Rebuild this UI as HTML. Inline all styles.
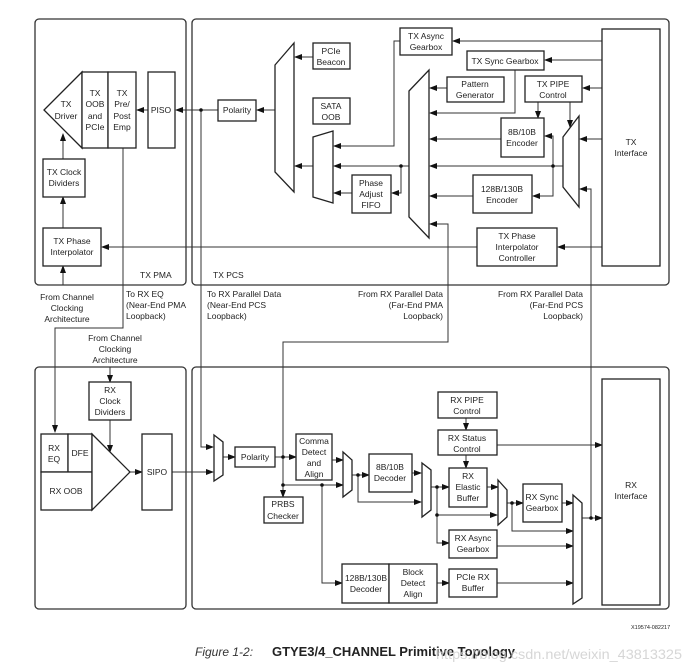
<!DOCTYPE html>
<html><head><meta charset="utf-8"><style>
html,body{margin:0;padding:0;background:#fff;width:693px;height:672px;overflow:hidden}
svg{display:block}
text{font-family:"Liberation Sans",sans-serif;font-size:8.5px;fill:#222}
.b{fill:#fff;stroke:#222;stroke-width:1.3}
.l{fill:none;stroke:#333;stroke-width:1}
.m{fill:#fff;stroke:#222;stroke-width:1.3}
</style></head><body>
<svg width="693" height="672" viewBox="0 0 693 672">
<defs><marker id="a" markerWidth="8" markerHeight="6" refX="7" refY="3" orient="auto" markerUnits="userSpaceOnUse"><path d="M0,0L8,3L0,6z" fill="#111"/></marker></defs>
<rect x="35" y="19" width="151" height="266" rx="4" fill="none" stroke="#333" stroke-width="1.3"/>
<rect x="192" y="19" width="477" height="266" rx="4" fill="none" stroke="#333" stroke-width="1.3"/>
<rect x="35" y="367" width="151" height="242" rx="4" fill="none" stroke="#333" stroke-width="1.3"/>
<rect x="192" y="367" width="477" height="242" rx="4" fill="none" stroke="#333" stroke-width="1.3"/>

<g class="l" marker-end="url(#a)">
<path d="M218,110H176"/>
<path d="M148,110H137"/>
<path d="M275,110H257"/>
<path d="M313,57H295"/>
<path d="M313,166H295"/>
<path d="M400,41H394V146H334"/>
<path d="M409,166H334"/>
<path d="M401,166V193H392"/>
<path d="M352,193H334"/>
<path d="M447,88H430"/>
<path d="M515,70V113H430"/>
<path d="M501,139H430"/>
<path d="M563,166H430"/>
<path d="M473,196H430"/>
<path d="M448,334V224H430"/>
<path d="M553,166V136H545"/>
<path d="M553,166V196H533"/>
<path d="M602,41H453"/>
<path d="M602,60H545"/>
<path d="M602,88H583"/>
<path d="M538,102V118"/>
<path d="M570,102V127"/>
<path d="M602,139H580"/>
<path d="M591,518V189H580"/>
<path d="M602,247H558"/>
<path d="M477,247H102"/>
<path d="M63,228V197"/>
<path d="M63,159V134"/>
<path d="M63,285V266"/>
<path d="M123,148V328H55V432"/>
<path d="M201,110V447H213"/>
</g>
<circle cx="201" cy="110" r="1.8" fill="#111"/>
<circle cx="401" cy="166" r="1.8" fill="#111"/>
<circle cx="553" cy="166" r="1.8" fill="#111"/>

<polygon class="m" points="82,72 82,148 44,110"/>
<rect class="b" x="82" y="72" width="26" height="76"/>
<rect class="b" x="108" y="72" width="28" height="76"/>
<rect class="b" x="148" y="72" width="27" height="76"/>
<rect class="b" x="218" y="100" width="38" height="21"/>
<polygon class="m" points="275,65 294,43 294,192 275,172"/>
<rect class="b" x="313" y="43" width="37" height="26"/>
<rect class="b" x="313" y="98" width="37" height="26"/>
<polygon class="m" points="313,137 333,131 333,203 313,197"/>
<rect class="b" x="352" y="175" width="39" height="38"/>
<polygon class="m" points="409,91 429,70 429,238 409,217"/>
<rect class="b" x="400" y="28" width="52" height="27"/>
<rect class="b" x="467" y="51" width="77" height="19"/>
<rect class="b" x="447" y="77" width="57" height="25"/>
<rect class="b" x="525" y="76" width="57" height="26"/>
<rect class="b" x="501" y="118" width="43" height="39"/>
<rect class="b" x="473" y="175" width="59" height="38"/>
<polygon class="m" points="563,137 579,116 579,207 563,187"/>
<rect class="b" x="602" y="29" width="58" height="237"/>
<rect class="b" x="477" y="228" width="80" height="38"/>
<rect class="b" x="43" y="228" width="58" height="38"/>
<rect class="b" x="43" y="159" width="42" height="38"/>

<g text-anchor="middle">
<text x="66" y="107">TX</text><text x="66" y="119">Driver</text>
<text x="95" y="96">TX</text><text x="95" y="107">OOB</text><text x="95" y="119">and</text><text x="95" y="130">PCIe</text>
<text x="122" y="96">TX</text><text x="122" y="107">Pre/</text><text x="122" y="119">Post</text><text x="122" y="130">Emp</text>
<text x="161" y="113">PISO</text>
<text x="237" y="113">Polarity</text>
<text x="331" y="54">PCIe</text><text x="331" y="65">Beacon</text>
<text x="331" y="109">SATA</text><text x="331" y="120">OOB</text>
<text x="371" y="186">Phase</text><text x="371" y="197">Adjust</text><text x="371" y="208">FIFO</text>
<text x="426" y="39">TX Async</text><text x="426" y="50">Gearbox</text>
<text x="505" y="64">TX Sync Gearbox</text>
<text x="475" y="87">Pattern</text><text x="475" y="98">Generator</text>
<text x="553" y="87">TX PIPE</text><text x="553" y="98">Control</text>
<text x="522" y="135">8B/10B</text><text x="522" y="146">Encoder</text>
<text x="502" y="192">128B/130B</text><text x="502" y="203">Encoder</text>
<text x="631" y="145">TX</text><text x="631" y="156">Interface</text>
<text x="517" y="239">TX Phase</text><text x="517" y="250">Interpolator</text><text x="517" y="261">Controller</text>
<text x="72" y="244">TX Phase</text><text x="72" y="255">Interpolator</text>
<text x="64" y="175">TX Clock</text><text x="64" y="186">Dividers</text>
<text x="67" y="300">From Channel</text><text x="67" y="311">Clocking</text><text x="67" y="322">Architecture</text>
<text x="115" y="341">From Channel</text><text x="115" y="352">Clocking</text><text x="115" y="363">Architecture</text>
</g>
<text x="140" y="278">TX PMA</text>
<text x="213" y="278">TX PCS</text>
<text x="126" y="297">To RX EQ</text><text x="126" y="308">(Near-End PMA</text><text x="126" y="319">Loopback)</text>
<text x="207" y="297">To RX Parallel Data</text><text x="207" y="308">(Near-End PCS</text><text x="207" y="319">Loopback)</text>
<g text-anchor="end">
<text x="443" y="297">From RX Parallel Data</text><text x="443" y="308">(Far-End PMA</text><text x="443" y="319">Loopback)</text>
<text x="583" y="297">From RX Parallel Data</text><text x="583" y="308">(Far-End PCS</text><text x="583" y="319">Loopback)</text>
</g>

<g class="l" marker-end="url(#a)">
<path d="M110,367V382"/>
<path d="M110,420V452"/>
<path d="M130,472H142"/>
<path d="M172,472H213"/>
<path d="M222,457H235"/>
<path d="M275,457H296"/>
<path d="M448,334V342H283V497"/>
<path d="M283,485H343"/>
<path d="M332,460H343"/>
<path d="M322,485V583H342"/>
<path d="M352,475H369"/>
<path d="M358,475V502H421"/>
<path d="M412,473H421"/>
<path d="M430,487H449"/>
<path d="M437,487V543H449"/>
<path d="M437,515H497"/>
<path d="M487,487H498"/>
<path d="M466,418V430"/>
<path d="M466,455V468"/>
<path d="M497,445H602"/>
<path d="M507,503H523"/>
<path d="M512,503V531H573"/>
<path d="M562,503H573"/>
<path d="M497,546H573"/>
<path d="M497,583H573"/>
<path d="M437,583H449"/>
<path d="M582,518H602"/>
</g>
<g fill="#111">
<circle cx="283" cy="457" r="1.8"/><circle cx="283" cy="485" r="1.8"/><circle cx="322" cy="485" r="1.8"/>
<circle cx="358" cy="475" r="1.8"/><circle cx="437" cy="487" r="1.8"/><circle cx="512" cy="503" r="1.8"/>
<circle cx="591" cy="518" r="1.8"/><circle cx="437" cy="515" r="1.8"/>
</g>

<rect class="b" x="89" y="382" width="42" height="38"/>
<rect class="b" x="41" y="434" width="27" height="38"/>
<rect class="b" x="68" y="434" width="24" height="38"/>
<rect class="b" x="41" y="472" width="51" height="38"/>
<polygon class="m" points="92,434 130,472 92,510"/>
<rect class="b" x="142" y="434" width="30" height="76"/>
<polygon class="m" points="214,435 223,442 223,475 214,481"/>
<rect class="b" x="235" y="447" width="40" height="20"/>
<rect class="b" x="296" y="434" width="36" height="46"/>
<rect class="b" x="264" y="497" width="39" height="26"/>
<polygon class="m" points="343,452 352,460 352,490 343,497"/>
<rect class="b" x="369" y="454" width="43" height="38"/>
<polygon class="m" points="422,463 431,470 431,510 422,517"/>
<rect class="b" x="342" y="564" width="47" height="39"/>
<rect class="b" x="389" y="564" width="48" height="39"/>
<rect class="b" x="438" y="392" width="59" height="26"/>
<rect class="b" x="438" y="430" width="59" height="25"/>
<rect class="b" x="449" y="468" width="38" height="39"/>
<polygon class="m" points="498,480 507,490 507,517 498,525"/>
<rect class="b" x="523" y="484" width="39" height="38"/>
<rect class="b" x="449" y="530" width="48" height="28"/>
<rect class="b" x="449" y="569" width="48" height="28"/>
<polygon class="m" points="573,495 582,503 582,598 573,604"/>
<rect class="b" x="602" y="379" width="58" height="226"/>

<g text-anchor="middle">
<text x="110" y="393">RX</text><text x="110" y="404">Clock</text><text x="110" y="415">Dividers</text>
<text x="54" y="451">RX</text><text x="54" y="462">EQ</text>
<text x="80" y="456">DFE</text>
<text x="66" y="494">RX OOB</text>
<text x="157" y="475">SIPO</text>
<text x="255" y="460">Polarity</text>
<text x="314" y="444">Comma</text><text x="314" y="455">Detect</text><text x="314" y="466">and</text><text x="314" y="477">Align</text>
<text x="283" y="507">PRBS</text><text x="283" y="519">Checker</text>
<text x="390" y="470">8B/10B</text><text x="390" y="481">Decoder</text>
<text x="366" y="581">128B/130B</text><text x="366" y="592">Decoder</text>
<text x="413" y="575">Block</text><text x="413" y="586">Detect</text><text x="413" y="597">Align</text>
<text x="467" y="403">RX PIPE</text><text x="467" y="414">Control</text>
<text x="467" y="441">RX Status</text><text x="467" y="452">Control</text>
<text x="468" y="479">RX</text><text x="468" y="490">Elastic</text><text x="468" y="501">Buffer</text>
<text x="542" y="500">RX Sync</text><text x="542" y="511">Gearbox</text>
<text x="473" y="541">RX Async</text><text x="473" y="552">Gearbox</text>
<text x="473" y="580">PCIe RX</text><text x="473" y="591">Buffer</text>
<text x="631" y="488">RX</text><text x="631" y="499">Interface</text>
</g>
<text x="631" y="629" style="font-size:5.5px">X19574-082217</text>
<text x="195" y="656" style="font-size:12px;font-style:italic;fill:#333">Figure 1-2:</text>
<text x="272" y="656" style="font-size:12.5px;font-weight:bold;fill:#222" textLength="243" lengthAdjust="spacingAndGlyphs">GTYE3/4_CHANNEL Primitive Topology</text>
<text x="436" y="659" style="font-size:14px;fill:#ccc;opacity:0.8" textLength="246" lengthAdjust="spacingAndGlyphs">https://blog.csdn.net/weixin_43813325</text>
</svg>
</body></html>
